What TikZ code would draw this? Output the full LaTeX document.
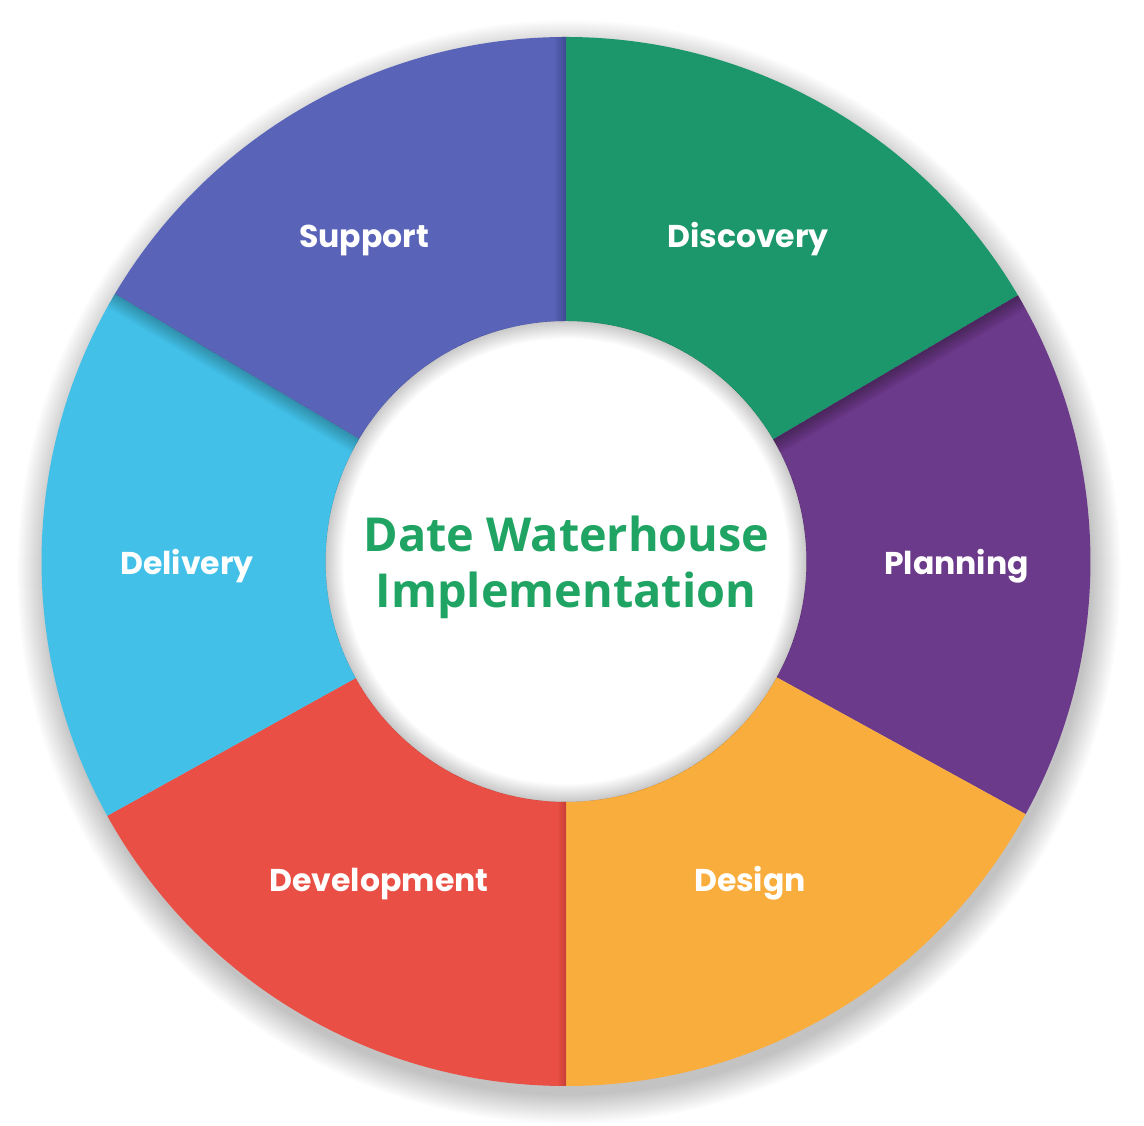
\documentclass[tikz,border=0pt]{standalone}
\usepackage{fontspec}
\newfontfamily\labelfont{Poppins}
\newfontfamily\titlefont{Open Sans}
\definecolor{cgreen}{HTML}{1C976B}
\definecolor{cpurple}{HTML}{6C3A8A}
\definecolor{corange}{HTML}{F9AD3C}
\definecolor{cred}{HTML}{E94F44}
\definecolor{cblue}{HTML}{43C0E8}
\definecolor{cviolet}{HTML}{5964B9}
\definecolor{ctitle}{HTML}{1FA463}
\def\Ro{524.5pt}
\def\Ri{240.5pt}
\newcommand\ringseg[2]{(#1:\Ro) arc[start angle=#1,end angle=#2,radius=\Ro] -- (#2:\Ri) arc[start angle=#2,end angle=#1,radius=\Ri] -- cycle}
\tikzset{
  seglabel/.style={text=white,font=\labelfont\bfseries\fontsize{31.5}{38}\selectfont,anchor=base,inner sep=0pt},
  titletext/.style={text=ctitle,font=\titlefont\bfseries\fontsize{46.8}{56}\selectfont,anchor=base,inner sep=0pt}
}
\begin{document}
\begin{tikzpicture}[x=1pt,y=1pt]
\useasboundingbox (0,0) rectangle (1144,1126);
\fill[white] (0,0) rectangle (1144,1126);
% outer soft shadow
\begin{scope}[shift={(569,554)}]
  \foreach \k in {1,...,30} {\fill[black,opacity=0.009] (0,0) circle[radius=522pt+\k pt];}
\end{scope}
\begin{scope}[shift={(566,564.5)}]
  \fill[white] (0,0) circle[radius=\Ri];
  % segments
  \fill[cgreen]  \ringseg{30.5}{90};
  \fill[cpurple] \ringseg{-28.8}{30.5};
  \fill[corange] \ringseg{-90}{-28.8};
  \fill[cred]    \ringseg{209}{270};
  \fill[cblue]   \ringseg{149.3}{209};
  \fill[cviolet] \ringseg{90}{149.3};
  % edge shadows
  \begin{scope}
    \clip \ringseg{-28.8}{30.5};
    \begin{scope}[rotate=30.5]
      \foreach \k in {1,...,16} {\fill[black,opacity=0.018] (0,0) rectangle (560,-\k);}
    \end{scope}
  \end{scope}
  \begin{scope}
    \clip \ringseg{149.3}{209};
    \begin{scope}[rotate=149.3]
      \foreach \k in {1,...,16} {\fill[black,opacity=0.016] (0,0) rectangle (560,\k);}
    \end{scope}
  \end{scope}
  \begin{scope}
    \clip \ringseg{90}{149.3};
    \begin{scope}[rotate=90]
      \foreach \k in {1,...,12} {\fill[black,opacity=0.016] (0,0) rectangle (560,\k);}
    \end{scope}
  \end{scope}
  \begin{scope}
    \clip \ringseg{209}{270};
    \begin{scope}[rotate=270]
      \foreach \k in {1,...,8} {\fill[black,opacity=0.014] (0,0) rectangle (560,-\k);}
    \end{scope}
  \end{scope}
  % inner shadow of the hole
  \foreach \k in {1,...,18} {\fill[black,opacity=0.01,even odd rule] (0,0) circle[radius=\Ri] (0,0) circle[radius=240.5pt-\k pt];}
  % labels
  \node[seglabel] (discovery) at (182,313.8) {Discovery};
  \node[seglabel] (support) at (-202,313.8) {Support};
  \node[seglabel] (planning) at (390.5,-12.8) {Planning};
  \node[seglabel] (delivery) at (-379,-12.8) {Delivery};
  \node[seglabel] (development) at (-187,-330.2) {Development};
  \node[seglabel] (design) at (184,-330.2) {Design};
  \node[titletext] (title1) at (0.5,9.8) {Date Waterhouse};
  \node[titletext] (title2) at (0,-46.5) {Implementation};
\end{scope}
\end{tikzpicture}
\end{document}
